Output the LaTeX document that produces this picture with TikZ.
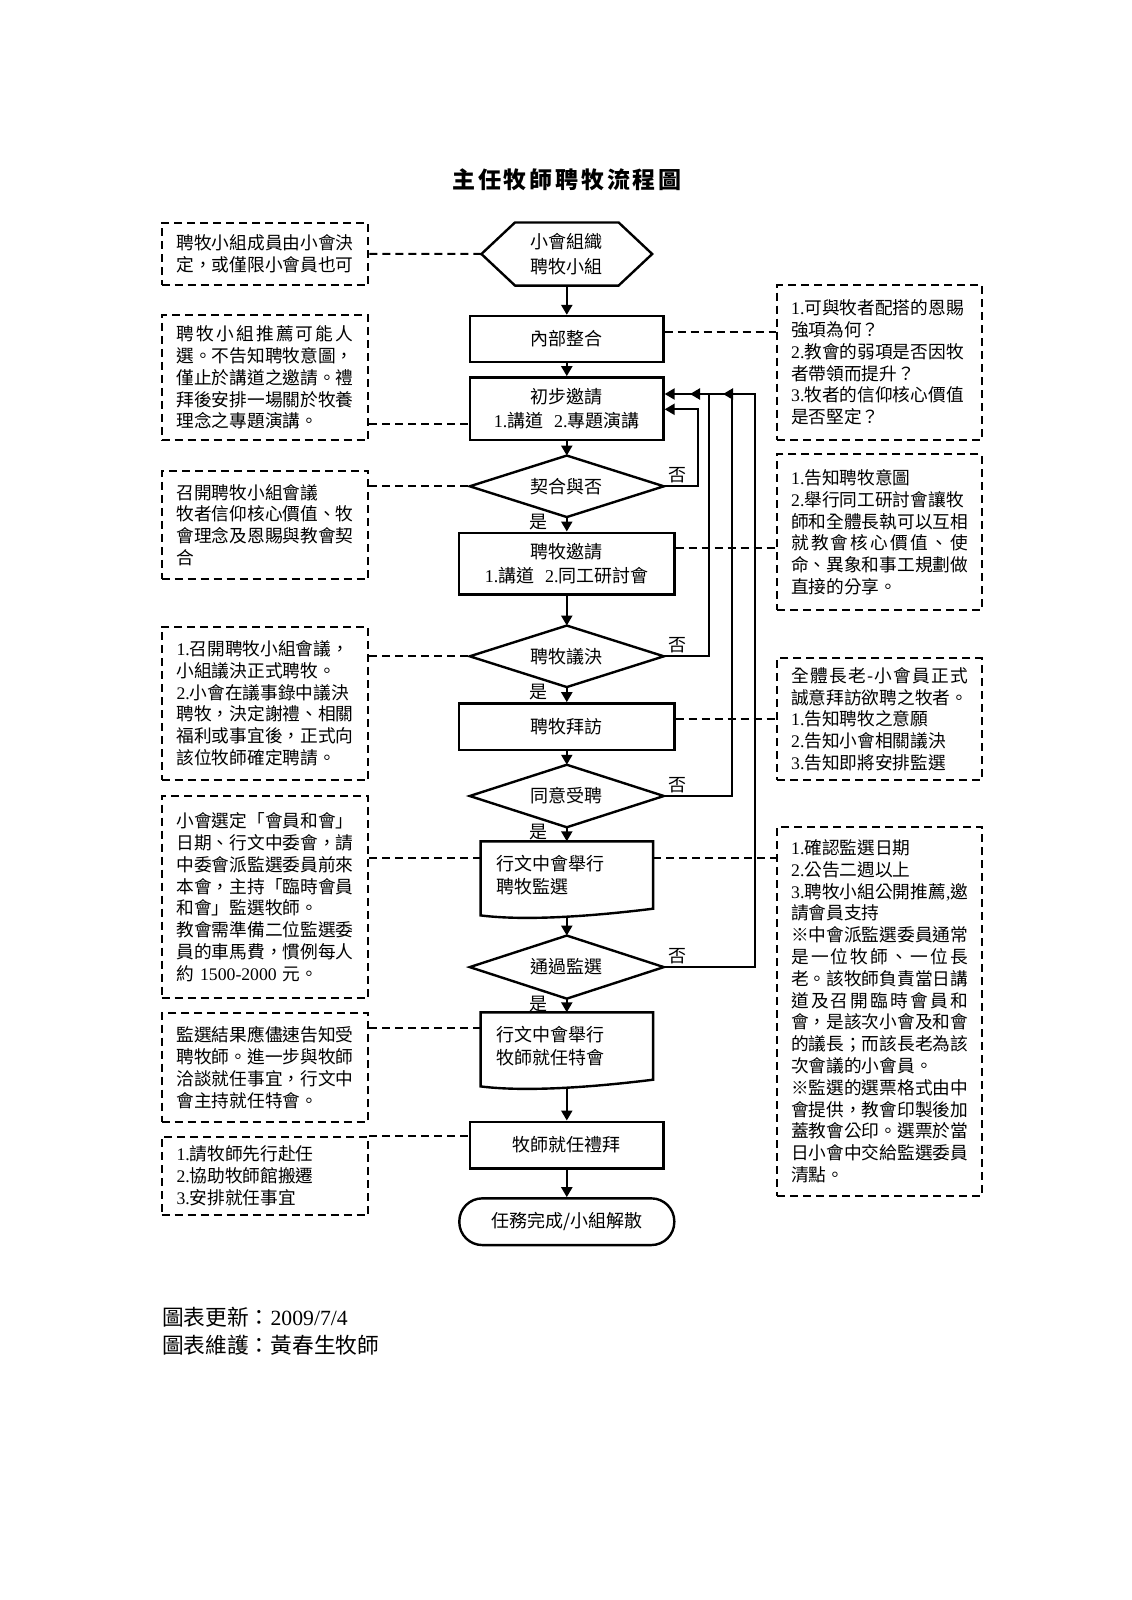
\documentclass[tikz,border=0pt]{standalone}
\usepackage{fontspec}
\setmainfont{Noto Sans CJK TC}
\newfontfamily\lat{Liberation Serif}
\usetikzlibrary{arrows.meta}
\newcommand\La[1]{{\lat #1}}
\newcommand\fs[2]{\fontsize{#1}{#2}\selectfont}
\def\sprA#1{#1\sprB}
\def\sprB#1{\ifx#1\relax\else\hfil#1\expandafter\sprB\fi}
\newcommand\spr[1]{\makebox[88.5pt][s]{\sprA#1\relax}}
\begin{document}
\begin{tikzpicture}[x=0.5pt,y=-0.5pt,
 flow/.style={draw=none, inner sep=0, align=center, font=\fs{9}{11.8}},
 box/.style={draw, line width=1.2pt},
 shp/.style={line width=1.2pt},
 note/.style={draw, line width=1pt, dash pattern=on 4pt off 2.5pt, inner sep=0, text width=88.5pt, align=left, font=\fs{8.85}{10.9}},
 lnote/.style={note, minimum width=103.3pt},
 rnote/.style={note, minimum width=102.35pt},
 dsh/.style={line width=1pt, dash pattern=on 4pt off 2.5pt},
 arr/.style={line width=1.1pt, -{Triangle[length=5pt,width=5.5pt]}},
 lbl/.style={inner sep=0, font=\fs{9}{11}},
]
\useasboundingbox (0,0) rectangle (1131,1600);

% title
\node[inner sep=0, font=\fs{11.5}{14}\bfseries\addfontfeature{LetterSpace=12}] (title) at (567,180) {主任牧師聘牧流程圖};

% center flow
\node[flow, font=\fs{9}{12.5}, minimum width=85pt, minimum height=31.15pt] (hex) at (566.8,254) {小會組織\\聘牧小組};
\draw[shp] (hex.west) -- ([xshift=16.8pt]hex.north west) -- ([xshift=-16.8pt]hex.north east) -- (hex.east) -- ([xshift=-16.8pt]hex.south east) -- ([xshift=16.8pt]hex.south west) -- cycle;

\node[flow, box, minimum width=96.65pt, minimum height=22.85pt] (n2) at (566.8,338.9) {內部整合};
\node[flow, box, minimum width=96.65pt, minimum height=31.35pt] (n3) at (566.8,408.7) {初步邀請\\\La{1.}講道\hspace{0.6em}\La{2.}專題演講};

\node[flow, minimum width=96.65pt, minimum height=30.35pt] (d1) at (566.8,486.3) {契合與否};
\draw[shp] (d1.west) -- (d1.north) -- (d1.east) -- (d1.south) -- cycle;

\node[flow, box, minimum width=107.6pt, minimum height=30.8pt] (n5) at (566.8,563.5) {聘牧邀請\\\La{1.}講道\hspace{0.6em}\La{2.}同工研討會};

\node[flow, minimum width=96.65pt, minimum height=30.35pt] (d2) at (566.8,656.3) {聘牧議決};
\draw[shp] (d2.west) -- (d2.north) -- (d2.east) -- (d2.south) -- cycle;

\node[flow, box, minimum width=107.6pt, minimum height=23.35pt] (n7) at (566.8,726.7) {聘牧拜訪};

\node[flow, minimum width=96.65pt, minimum height=30.85pt] (d3) at (566.8,796) {同意受聘};
\draw[shp] (d3.west) -- (d3.north) -- (d3.east) -- (d3.south) -- cycle;

\node[flow, text width=70pt, align=left, minimum width=85.85pt, minimum height=33.3pt] (doc1) at (566.8,875) {行文中會舉行\\聘牧監選};
\draw[shp] (doc1.north west) -- ([yshift=-3.35pt]doc1.south west) .. controls ([xshift=25pt,yshift=-6.5pt]doc1.south west) and ([xshift=62pt,yshift=-3pt]doc1.south west) .. (doc1.south east) -- (doc1.north east) -- cycle;

\node[flow, minimum width=96.65pt, minimum height=31.15pt] (d4) at (566.8,967.1) {通過監選};
\draw[shp] (d4.west) -- (d4.north) -- (d4.east) -- (d4.south) -- cycle;

\node[flow, text width=70pt, align=left, minimum width=85.85pt, minimum height=33.3pt] (doc2) at (566.8,1046) {行文中會舉行\\牧師就任特會};
\draw[shp] (doc2.north west) -- ([yshift=-3.35pt]doc2.south west) .. controls ([xshift=25pt,yshift=-6.5pt]doc2.south west) and ([xshift=62pt,yshift=-3pt]doc2.south west) .. (doc2.south east) -- (doc2.north east) -- cycle;

\node[flow, box, minimum width=96.65pt, minimum height=23.3pt] (n12) at (566.8,1145) {牧師就任禮拜};
\node[flow, draw, line width=1.2pt, rounded corners=11.5pt, minimum width=107.5pt, minimum height=23.35pt] (n13) at (566.8,1221.7) {任務完成/小組解散};

% main arrows
\draw[arr] (hex.south) -- (n2.north);
\draw[arr] (n2.south) -- (n3.north);
\draw[arr] (n3.south) -- (d1.north);
\draw[arr] (d1.south) -- (n5.north);
\draw[arr] (n5.south) -- (d2.north);
\draw[arr] (d2.south) -- (n7.north);
\draw[arr] (n7.south) -- (d3.north);
\draw[arr] (d3.south) -- (doc1.north);
\draw[arr] ([yshift=-4pt]doc1.south) -- (d4.north);
\draw[arr] (d4.south) -- (doc2.north);
\draw[arr] ([yshift=-4pt]doc2.south) -- (n12.north);
\draw[arr] (n12.south) -- (n13.north);

% feedback loops
\coordinate (fb1) at (698.3,409.3);
\draw[arr] (d1.east) -| (fb1) -- (fb1 -| n3.east);
\coordinate (fb2) at (709,394);
\draw[arr] (d2.east) -| (fb2) -- (fb2 -| n3.east);
\coordinate (fb3) at (732.3,394);
\coordinate (fb3e) at (690,394);
\draw[arr] (d3.east) -| (fb3) -- (fb3e);
\coordinate (fb4) at (755,394);
\coordinate (fb4e) at (723,394);
\draw[arr] (d4.east) -| (fb4) -- (fb4e);

% yes / no labels
\foreach \d in {d1,d2,d3,d4}{
  \node[lbl] (no\d) at ([xshift=6.7pt,yshift=5.5pt]\d.east) {否};
  \node[lbl] (yes\d) at ([xshift=-14.2pt,yshift=-2.5pt]\d.south) {是};
}

% left notes
\node[lnote, minimum height=31.15pt] (L1) at (265,253.85) {聘牧小組成員由小會決\\定，或僅限小會員也可};
\node[lnote, minimum height=62.5pt] (L2) at (265,377.5) {\spr{聘牧小組推薦可能人}\\選。不告知聘牧意圖，\\僅止於講道之邀請。禮\\拜後安排一場關於牧養\\理念之專題演講。};
\node[lnote, minimum height=54.3pt] (L3) at (265,525) {召開聘牧小組會議\\牧者信仰核心價值、牧\\會理念及恩賜與教會契\\合};
\node[lnote, minimum height=76.65pt] (L4) at (265,703.35) {\La{1.}召開聘牧小組會議，\\小組議決正式聘牧。\\\La{2.}小會在議事錄中議決\\聘牧，決定謝禮、相關\\福利或事宜後，正式向\\該位牧師確定聘請。};
\node[lnote, minimum height=101.15pt] (L5) at (265,897.15) {小會選定「會員和會」\\日期、行文中委會，請\\中委會派監選委員前來\\本會，主持「臨時會員\\和會」監選牧師。\\教會需準備二位監選委\\員的車馬費，慣例每人\\約 \La{1500-2000} 元。};
\node[lnote, minimum height=54.2pt] (L6) at (265,1067.5) {監選結果應儘速告知受\\聘牧師。進一步與牧師\\洽談就任事宜，行文中\\會主持就任特會。};
\node[lnote, minimum height=39.15pt] (L7) at (265,1175.85) {\La{1.}請牧師先行赴任\\\La{2.}協助牧師館搬遷\\\La{3.}安排就任事宜};

% right notes
\node[rnote, minimum height=77.5pt] (R1) at (879.65,362.5) {\La{1.}可與牧者配搭的恩賜\\強項為何？\\\La{2.}教會的弱項是否因牧\\者帶領而提升？\\\La{3.}牧者的信仰核心價值\\是否堅定？};
\node[rnote, minimum height=77.85pt] (R2) at (879.65,532.15) {\La{1.}告知聘牧意圖\\\La{2.}舉行同工研討會讓牧\\師和全體長執可以互相\\\spr{就教會核心價值、使}\\命、異象和事工規劃做\\直接的分享。};
\node[rnote, minimum height=60.85pt] (R3) at (879.65,719.15) {\spr{全體長老-小會員正式}\\誠意拜訪欲聘之牧者。\\\La{1.}告知聘牧之意願\\\La{2.}告知小會相關議決\\\La{3.}告知即將安排監選};
\node[rnote, minimum height=184.65pt] (R4) at (879.65,1011.35) {\La{1.}確認監選日期\\\La{2.}公告二週以上\\\La{3.}聘牧小組公開推薦\La{,}邀\\請會員支持\\※中會派監選委員通常\\\spr{是一位牧師、一位長}\\老。該牧師負責當日講\\\spr{道及召開臨時會員和}\\會，是該次小會及和會\\的議長；而該長老為該\\次會議的小會員。\\※監選的選票格式由中\\會提供，教會印製後加\\蓋教會公印。選票於當\\日小會中交給監選委員\\清點。};

% dashed links
\draw[dsh] (L1.east) -- (hex.west);
\coordinate (k2) at ([yshift=3.6pt]n2.east);
\draw[dsh] (k2) -- (k2 -| R1.west);
\coordinate (k3) at ([yshift=-7.65pt]n3.west);
\draw[dsh] (k3 -| L2.east) -- (k3);
\draw[dsh] (d1.west -| L3.east) -- (d1.west);
\coordinate (k5) at ([yshift=7.6pt]n5.east);
\draw[dsh] (k5) -- (k5 -| R2.west);
\draw[dsh] (d2.west -| L4.east) -- (d2.west);
\draw[dsh] (n7.east |- R3.west) -- (R3.west);
\coordinate (c1) at ([yshift=8.35pt]doc1.west);
\draw[dsh] (c1 -| L5.east) -- (c1);
\draw[dsh] (c1 -| doc1.east) -- (c1 -| R4.west);
\coordinate (c2) at ([yshift=8.85pt]doc2.west);
\draw[dsh] (c2 -| L6.east) -- (c2);
\draw[dsh] (L7.north east) -- (L7.north east -| n12.west);

% footer
\node[anchor=west, inner sep=0, font=\fs{10.85}{13}] (f1) at (161.7,1317.5) {圖表更新：\La{2009/7/4}};
\node[anchor=west, inner sep=0, font=\fs{10.85}{13}] (f2) at (161.7,1345) {圖表維護：黃春生牧師};
\end{tikzpicture}
\end{document}
